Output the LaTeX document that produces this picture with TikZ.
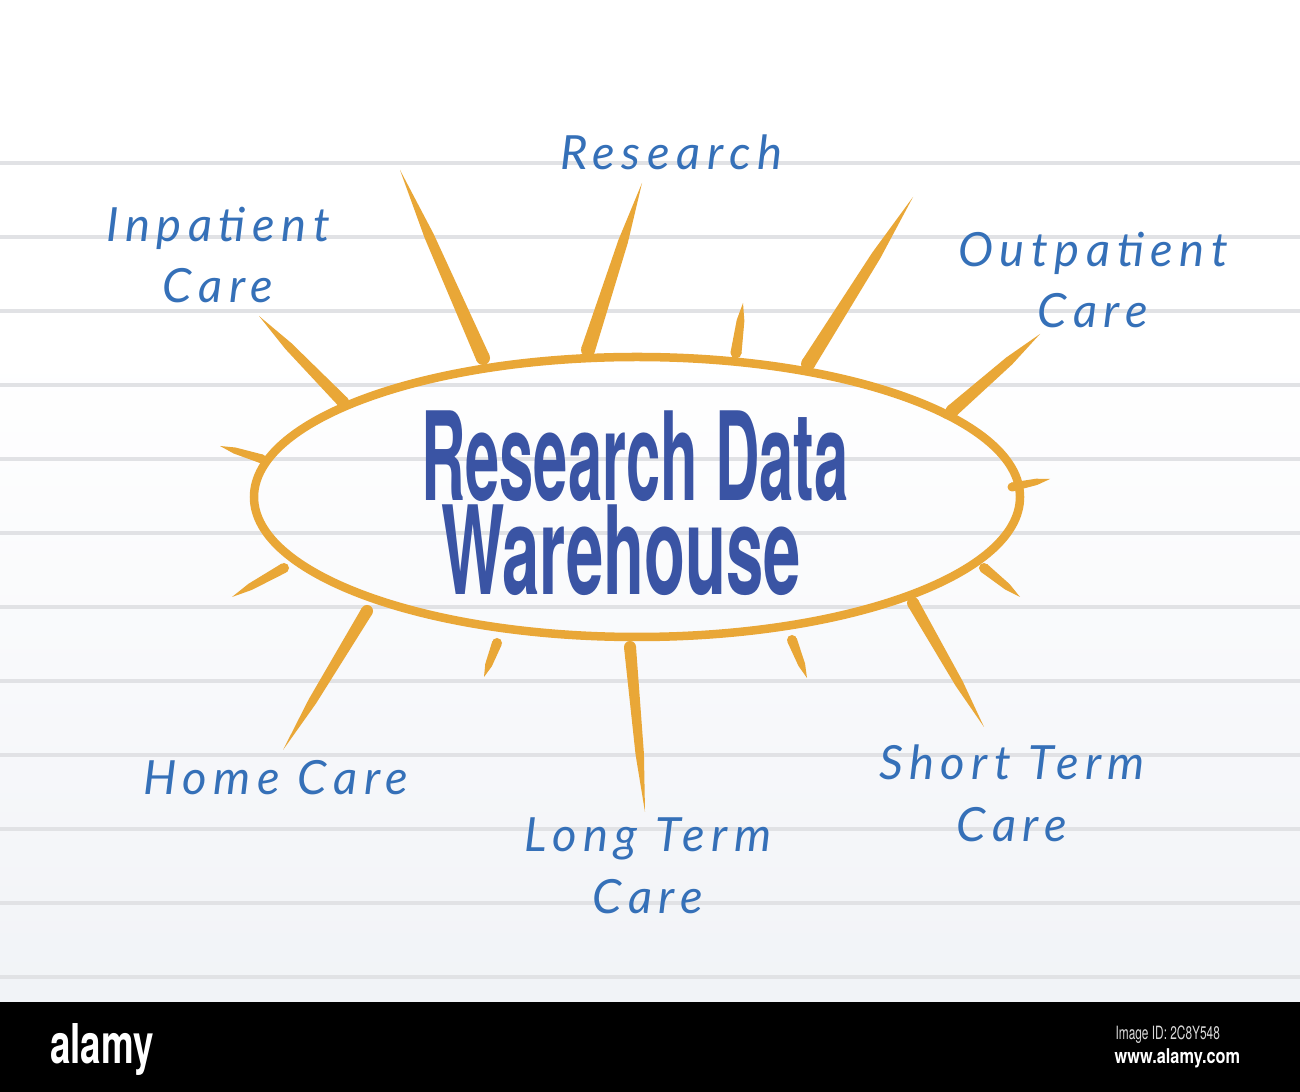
\documentclass[tikz,border=0pt]{standalone}
\usepackage{fontspec}
\usepackage{tikz}
\usetikzlibrary{calc}

\newfontfamily\handfont{Lato Italic}[LetterSpace=14]
\newfontfamily\titlefont{TeX Gyre Heros}

\definecolor{paper}{HTML}{F1F3F7}
\definecolor{ruleline}{HTML}{E1E2E5}
\definecolor{brush}{HTML}{E9A737}
\definecolor{ink}{HTML}{3570B8}
\definecolor{titleblue}{HTML}{3A54A4}

% tapered brush stroke: base, tip, half width at the base
\newcommand{\brushray}[3]{%
  \fill[brush] ($(#1)!#3!90:(#2)$) -- ($(#1)!0.65!(#2)!{0.7*#3}!90:(#2)$) -- (#2)
    -- ($(#1)!0.65!(#2)!{0.7*#3}!-90:(#2)$) -- ($(#1)!#3!-90:(#2)$) -- cycle;
  \fill[brush] (#1) circle[radius=#3];
}

\begin{document}
\begin{tikzpicture}[x=0.01cm, y=-0.01cm,
  rule/.style={draw=ruleline, line width=0.04cm},
  handlabel/.style={text=ink, font=\handfont\fontsize{13.4}{17.6}\selectfont, align=center},
  titletext/.style={text=titleblue, font=\titlefont\bfseries\fontsize{35}{26}\selectfont,
    anchor=base, inner sep=0pt, text depth=0pt}]
\useasboundingbox (0,0) rectangle (1300,1092);
\fill[white] (0,0) rectangle (1300,350);
\shade[top color=white, bottom color=paper] (0,350) rectangle (1300,1002);
\foreach \y in {163,237,...,977}
  \draw[rule] (0,\y) -- (1300,\y);

\draw[brush, line width=0.085cm] (637,497) ellipse[x radius=383, y radius=140];
\draw[brush, line width=0.3pt] (770,368) .. controls (860,378) and (915,395) .. (945,418);

% rays round the ellipse
\brushray{343,402}{259,316}{0.06cm}
\brushray{483,358}{400,170}{0.07cm}
\brushray{588,350}{642,183}{0.07cm}
\brushray{736,353}{743,303}{0.055cm}
\brushray{808,364}{913,197}{0.07cm}
\brushray{952,411}{1040,334}{0.065cm}
\brushray{1012,487}{1050,479}{0.045cm}
\brushray{984,568}{1020,597}{0.05cm}
\brushray{913,603}{984,727}{0.06cm}
\brushray{792,640}{807,678}{0.05cm}
\brushray{630,647}{645,812}{0.06cm}
\brushray{497,643}{484,677}{0.05cm}
\brushray{367,611}{283,750}{0.06cm}
\brushray{284,568}{232,597}{0.05cm}
\brushray{262,459}{220,446}{0.045cm}

\node[titletext, xscale=0.5] (title) at (635,501) {Research Data};
\node[titletext, xscale=0.545] (title2) at (621,595) {Warehouse};

\node[handlabel] (research) at (671,152) {Research};
\node[handlabel] (inpatient) at (218,255) {Inpatient\\Care};
\node[handlabel] (outpatient) at (1093,280) {Outpatient\\Care};
\node[handlabel] (home) at (276,778) {Home Care};
\node[handlabel] (longterm) at (648,866) {Long Term\\Care};
\node[handlabel] (shortterm) at (1012,793) {Short Term\\Care};

% bottom band
\fill[black] (0,1002) rectangle (1300,1092);
\node[text=white, font=\titlefont\bfseries\fontsize{15.6}{18}\selectfont, xscale=0.67] (logo) at (102,1050) {alamy};
\node[anchor=east, text=white!85!black, font=\titlefont\fontsize{5.2}{6}\selectfont, xscale=0.65] (imageid) at (1228,1035) {Image ID: 2C8Y548};
\node[anchor=east, text=white, font=\titlefont\bfseries\fontsize{5.8}{7}\selectfont, xscale=0.8] (site) at (1250,1058) {www.alamy.com};
\end{tikzpicture}
\end{document}
